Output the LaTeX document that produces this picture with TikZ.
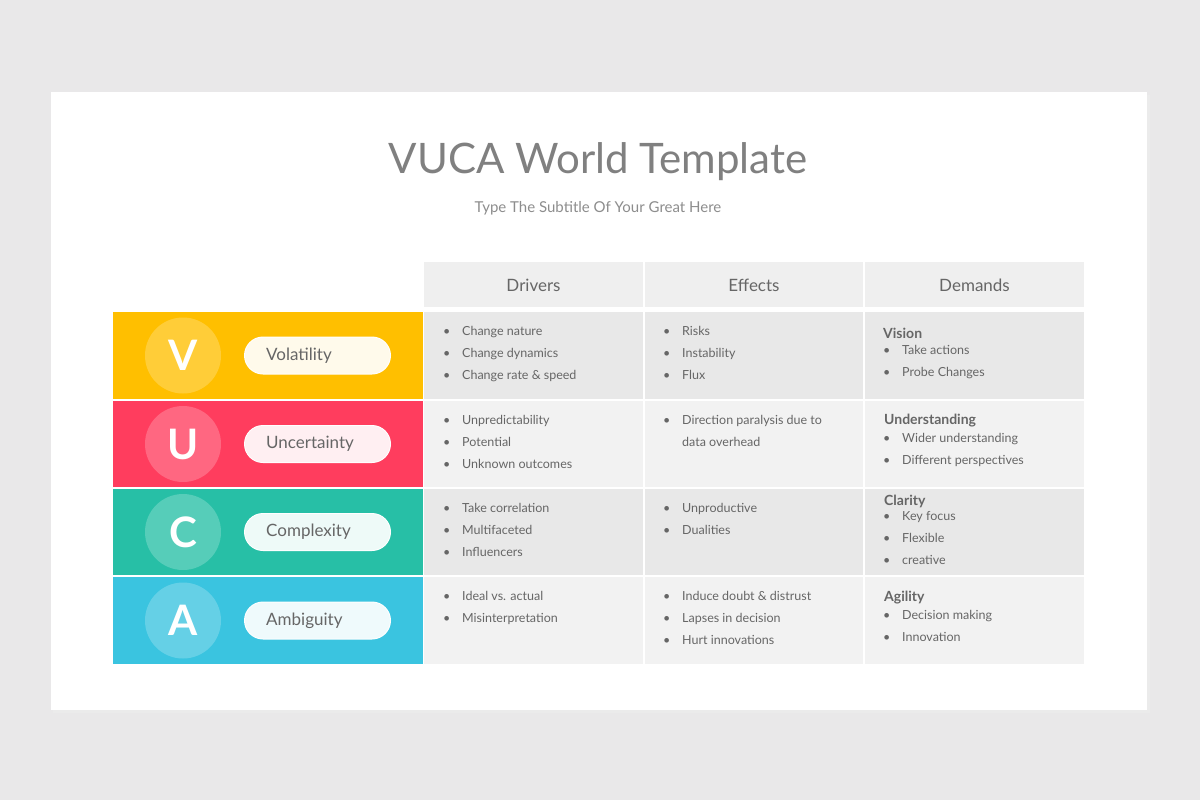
\documentclass[tikz,border=0pt]{standalone}
\usepackage{fontspec}
\setmainfont{Lato}
\definecolor{bg}{HTML}{E9E8E9}
\definecolor{tgrey}{HTML}{808080}
\definecolor{cgrey}{HTML}{666666}
\definecolor{cellA}{HTML}{E8E8E8}
\definecolor{cellB}{HTML}{F2F2F2}
\definecolor{hdr}{HTML}{EFEFEF}
\definecolor{cY}{HTML}{FFBF00}
\definecolor{cR}{HTML}{FF3D5E}
\definecolor{cT}{HTML}{27BFA6}
\definecolor{cC}{HTML}{3AC4E0}
\tikzset{
 hd/.style={font=\fontsize{17}{20}\selectfont, text=cgrey},
 bl/.style={font=\fontsize{12.5}{22}\selectfont, text=cgrey, anchor=north west, align=left, inner sep=0pt},
 dh/.style={font=\fontsize{14}{16}\selectfont\bfseries, text=cgrey, anchor=west, inner sep=0pt},
 letter/.style={font=\fontsize{42}{44}\selectfont\bfseries, text=white},
 pilltxt/.style={font=\fontsize{17}{20}\selectfont, text=cgrey, anchor=west, inner sep=0pt}
}
\newcommand{\bu}{\makebox[19pt][l]{\textbullet}}
\begin{document}
\begin{tikzpicture}[x=1pt,y=-1pt]
\useasboundingbox (0,0) rectangle (1200,800);
\fill[bg] (0,0) rectangle (1200,800);
\fill[black!8] (53,95) rectangle (1150,713);
\fill[white] (51,92) rectangle (1147,710);
\node[text=tgrey,font=\fontsize{42}{46}\selectfont] (title) at (598,162) {VUCA World Template};
\node[text=tgrey!90,font=\fontsize{15}{18}\selectfont] (sub) at (598,208) {Type The Subtitle Of Your Great Here};
% header
\foreach \a/\b/\t in {424/643/Drivers,645/863/Effects,865/1084/Demands}{
 \fill[hdr] (\a,262) rectangle (\b,307);
 \node[hd] at ({(\a+\b)/2},285) {\t};}
% rows
\foreach \top/\bot/\col/\cell/\L/\W [count=\i] in {
 312/399/cY/cellA/V/Volatility,
 401/487/cR/cellB/U/Uncertainty,
 489/575/cT/cellA/C/Complexity,
 577/664/cC/cellB/A/Ambiguity}{
 \fill[\col] (113,\top) rectangle (423,\bot);
 \foreach \a/\b in {424/643,645/863,865/1084} \fill[\cell] (\a,\top) rectangle (\b,\bot);
 \pgfmathsetmacro{\cy}{(\top+\bot)/2}
 \fill[white,opacity=0.22] (183,\cy) circle (38);
 \node[letter] (l\i) at (183,\cy) {\L};
 \fill[white,rounded corners=19pt] (244,{\cy-19}) rectangle (391,{\cy+19});
 \fill[\col!8,rounded corners=18pt] (245,{\cy-18}) rectangle (390,{\cy+18});
 \node[pilltxt] (p\i) at (266,\cy) {\W};
}
% row 1
\node[bl] (d1) at (443,326) {\bu Change nature\\\bu Change dynamics\\\bu Change rate \& speed};
\node[bl] (e1) at (663,326) {\bu Risks\\\bu Instability\\\bu Flux};
\node[dh] (h1) at (883,333) {Vision};
\node[bl] (m1) at (883,345) {\bu Take actions\\\bu Probe Changes};
% row 2
\node[bl] (d2) at (443,415) {\bu Unpredictability\\\bu Potential\\\bu Unknown outcomes};
\node[bl] (e2) at (663,415) {\bu Direction paralysis due to\\\makebox[19pt]{}data overhead};
\node[dh] (h2) at (884,421) {Understanding};
\node[bl] (m2) at (883,433) {\bu Wider understanding\\\bu Different perspectives};
% row 3
\node[bl] (d3) at (443,503) {\bu Take correlation\\\bu Multifaceted\\\bu Influencers};
\node[bl] (e3) at (663,503) {\bu Unproductive\\\bu Dualities};
\node[dh] (h3) at (884,501) {Clarity};
\node[bl] (m3) at (883,511) {\bu Key focus\\\bu Flexible\\\bu creative};
% row 4
\node[bl] (d4) at (443,591) {\bu Ideal vs. actual\\\bu Misinterpretation};
\node[bl] (e4) at (663,591) {\bu Induce doubt \& distrust\\\bu Lapses in decision\\\bu Hurt innovations};
\node[dh] (h4) at (884,598) {Agility};
\node[bl] (m4) at (883,610) {\bu Decision making\\\bu Innovation};
\end{tikzpicture}
\end{document}
